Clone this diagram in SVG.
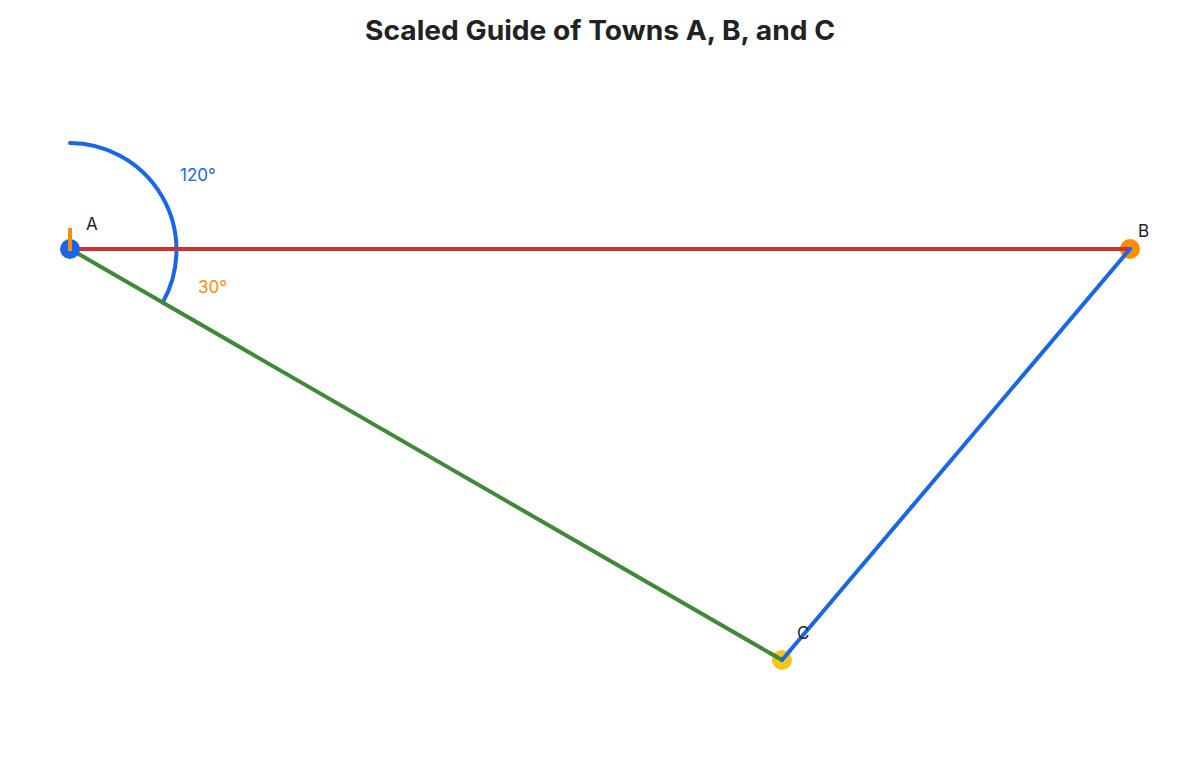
<svg xmlns="http://www.w3.org/2000/svg" width="1200" height="763" viewBox="0 0 1200 763">
<style>
text{font-family:Inter,"Noto Sans",sans-serif;}
.lbl{font-size:17px;fill:#222;}
.ln{stroke-width:4;fill:none;stroke-linecap:round;}
</style>
<rect width="1200" height="763" fill="#fff"/>
<text x="600" y="40" text-anchor="middle" font-size="27" font-weight="700" fill="#222" textLength="470" lengthAdjust="spacingAndGlyphs">Scaled Guide of Towns A, B, and C</text>
<g id="connectors">
<path class="ln" d="M70,143 A107,107 0 0 1 162.7,302.5" stroke="#1967e8"/>
<line class="ln" x1="70" y1="249" x2="1130" y2="249" stroke="#d03030"/>
<line class="ln" x1="70" y1="249" x2="782" y2="660" stroke="#3f8a36"/>
<line class="ln" x1="1130" y1="249" x2="782" y2="660" stroke="#1967e8"/>
</g>
<g id="nodeA"><circle cx="70" cy="249" r="10" fill="#1967e8"/><line x1="70" y1="228" x2="70" y2="251" stroke="#ff8c00" stroke-width="4"/><text class="lbl" x="86" y="230">A</text></g>
<g id="nodeB"><circle cx="1130" cy="249" r="10" fill="#ff8c00"/><line class="ln" x1="1120" y1="249" x2="1130" y2="249" stroke="#d03030"/><line class="ln" x1="1130" y1="249" x2="1124" y2="256" stroke="#1967e8"/><text class="lbl" x="1138" y="237">B</text></g>
<g id="nodeC"><circle cx="782" cy="660" r="10" fill="#f5c518"/><line class="ln" x1="782" y1="660" x2="770" y2="653" stroke="#3f8a36"/><line class="ln" x1="782" y1="660" x2="790" y2="651" stroke="#1967e8"/><text class="lbl" x="797" y="639">C</text></g>
<text x="180" y="181" font-size="17" fill="#1967e8">120°</text>
<text x="198" y="293" font-size="17" fill="#ff8c00">30°</text>
</svg>
